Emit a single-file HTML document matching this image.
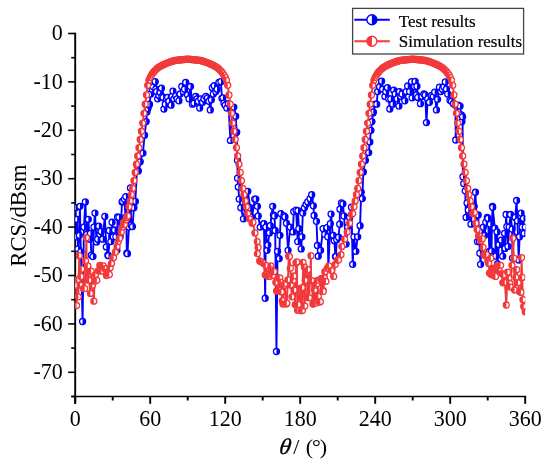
<!DOCTYPE html>
<html><head><meta charset="utf-8"><style>html,body{margin:0;padding:0;background:#fff;width:550px;height:465px;overflow:hidden}svg{display:block}</style></head>
<body>
<svg width="550" height="465" viewBox="0 0 550 465">
<defs>
<symbol id="mb" overflow="visible"><circle cx="0" cy="0" r="3.0" fill="#fff" stroke="#0000ff" stroke-width="1.3"/><path d="M0,-3.0 A3.0,3.0 0 0 1 0,3.0 Z" fill="#0000ff"/></symbol>
<symbol id="mr" overflow="visible"><circle cx="0" cy="0" r="3.0" fill="#fff" stroke="#f2383a" stroke-width="1.3"/><path d="M0,-3.0 A3.0,3.0 0 0 0 0,3.0 Z" fill="#f2383a"/></symbol>
</defs>
<rect width="550" height="465" fill="#fff"/>
<line x1="75.2" y1="32.7" x2="75.2" y2="403.8" stroke="#000" stroke-width="1.9"/>
<line x1="71.4" y1="396.5" x2="526.1500000000001" y2="396.5" stroke="#000" stroke-width="1.7"/>
<line x1="68.2" y1="33.5" x2="75.2" y2="33.5" stroke="#000" stroke-width="1.6"/>
<line x1="71.2" y1="57.7" x2="75.2" y2="57.7" stroke="#000" stroke-width="1.6"/>
<line x1="68.2" y1="81.9" x2="75.2" y2="81.9" stroke="#000" stroke-width="1.6"/>
<line x1="71.2" y1="106.1" x2="75.2" y2="106.1" stroke="#000" stroke-width="1.6"/>
<line x1="68.2" y1="130.3" x2="75.2" y2="130.3" stroke="#000" stroke-width="1.6"/>
<line x1="71.2" y1="154.5" x2="75.2" y2="154.5" stroke="#000" stroke-width="1.6"/>
<line x1="68.2" y1="178.7" x2="75.2" y2="178.7" stroke="#000" stroke-width="1.6"/>
<line x1="71.2" y1="202.9" x2="75.2" y2="202.9" stroke="#000" stroke-width="1.6"/>
<line x1="68.2" y1="227.1" x2="75.2" y2="227.1" stroke="#000" stroke-width="1.6"/>
<line x1="71.2" y1="251.29999999999998" x2="75.2" y2="251.29999999999998" stroke="#000" stroke-width="1.6"/>
<line x1="68.2" y1="275.5" x2="75.2" y2="275.5" stroke="#000" stroke-width="1.6"/>
<line x1="71.2" y1="299.7" x2="75.2" y2="299.7" stroke="#000" stroke-width="1.6"/>
<line x1="68.2" y1="323.9" x2="75.2" y2="323.9" stroke="#000" stroke-width="1.6"/>
<line x1="71.2" y1="348.09999999999997" x2="75.2" y2="348.09999999999997" stroke="#000" stroke-width="1.6"/>
<line x1="68.2" y1="372.3" x2="75.2" y2="372.3" stroke="#000" stroke-width="1.6"/>
<line x1="71.2" y1="396.5" x2="75.2" y2="396.5" stroke="#000" stroke-width="1.6"/>
<line x1="75.2" y1="396.5" x2="75.2" y2="403.8" stroke="#000" stroke-width="1.9"/>
<line x1="112.70000000000002" y1="396.5" x2="112.70000000000002" y2="400.5" stroke="#000" stroke-width="1.9"/>
<line x1="150.20000000000002" y1="396.5" x2="150.20000000000002" y2="403.8" stroke="#000" stroke-width="1.9"/>
<line x1="187.70000000000002" y1="396.5" x2="187.70000000000002" y2="400.5" stroke="#000" stroke-width="1.9"/>
<line x1="225.20000000000005" y1="396.5" x2="225.20000000000005" y2="403.8" stroke="#000" stroke-width="1.9"/>
<line x1="262.70000000000005" y1="396.5" x2="262.70000000000005" y2="400.5" stroke="#000" stroke-width="1.9"/>
<line x1="300.20000000000005" y1="396.5" x2="300.20000000000005" y2="403.8" stroke="#000" stroke-width="1.9"/>
<line x1="337.70000000000005" y1="396.5" x2="337.70000000000005" y2="400.5" stroke="#000" stroke-width="1.9"/>
<line x1="375.20000000000005" y1="396.5" x2="375.20000000000005" y2="403.8" stroke="#000" stroke-width="1.9"/>
<line x1="412.70000000000005" y1="396.5" x2="412.70000000000005" y2="400.5" stroke="#000" stroke-width="1.9"/>
<line x1="450.20000000000005" y1="396.5" x2="450.20000000000005" y2="403.8" stroke="#000" stroke-width="1.9"/>
<line x1="487.70000000000005" y1="396.5" x2="487.70000000000005" y2="400.5" stroke="#000" stroke-width="1.9"/>
<line x1="525.2" y1="396.5" x2="525.2" y2="403.8" stroke="#000" stroke-width="1.9"/>
<clipPath id="pc"><rect x="75.3" y="0" width="450" height="396"/></clipPath>
<g clip-path="url(#pc)">
<path d="M75.58,207.74 L76.20,236.78 L77.20,219.36 L78.08,248.88 L79.33,235.33 L79.95,206.29 L80.83,251.78 L82.58,321.48 L83.95,227.10 L85.33,201.93 L86.70,234.36 L88.33,219.36 L89.58,239.20 L90.45,233.39 L91.33,255.17 L92.95,256.62 L93.95,227.10 L94.95,213.06 L96.58,242.10 L97.70,239.20 L98.83,226.13 L99.95,234.36 L101.08,231.46 L102.70,239.20 L104.83,216.45 L106.33,246.94 L107.83,255.17 L108.45,255.66 L109.33,230.49 L110.83,241.62 L112.08,222.26 L113.33,236.78 L114.58,230.00 L115.83,236.78 L116.95,250.33 L117.58,216.94 L118.95,217.42 L120.20,236.78 L122.08,201.93 L122.70,201.45 L124.45,199.03 L125.45,217.42 L125.83,196.61 L126.83,253.24 L127.45,253.72 L128.95,227.10 L130.45,187.90 L131.20,225.16 L132.45,226.62 L133.95,207.74 L135.33,201.45 L137.20,165.63 L138.33,170.96 L140.20,161.76 L142.95,153.05 L144.58,135.14 L146.20,121.59 L146.95,111.91 L147.95,108.52 L148.95,105.13 L149.45,104.16 L150.83,94.00 L152.08,89.16 L153.33,86.74 L155.20,81.71 L155.83,89.16 L156.57,91.58 L157.70,98.84 L158.95,95.45 L160.20,92.55 L161.45,88.19 L161.95,96.42 L163.08,97.39 L163.95,109.00 L165.32,104.16 L166.45,98.84 L167.70,97.39 L168.95,101.26 L171.08,105.13 L172.08,96.42 L172.95,91.10 L173.95,98.84 L175.83,95.94 L177.08,98.84 L178.95,100.78 L180.20,94.00 L181.82,86.50 L183.33,91.58 L184.58,89.16 L185.70,82.38 L187.58,94.97 L188.95,98.84 L190.45,86.50 L192.45,104.16 L193.95,103.20 L195.83,96.42 L197.08,98.84 L198.33,101.26 L199.70,108.04 L200.83,98.84 L202.58,102.23 L203.95,98.84 L205.83,96.42 L207.45,97.87 L208.95,101.26 L210.32,109.97 L211.33,99.81 L212.33,87.71 L213.33,94.00 L214.20,85.77 L215.83,91.58 L217.08,89.16 L218.95,82.38 L220.95,81.71 L221.95,98.36 L222.95,97.87 L223.95,103.20 L225.20,105.13 L226.83,108.04 L228.33,103.68 L230.45,140.46 L232.08,110.94 L233.83,107.07 L235.70,116.26 L236.70,132.24 L237.45,160.31 L237.58,178.22 L238.33,186.93 L239.20,199.03 L240.83,207.74 L243.45,218.87 L245.83,202.90 L247.83,191.28 L250.20,207.74 L252.08,217.42 L254.70,199.03 L255.83,199.03 L257.45,206.29 L258.20,215.97 L260.20,227.10 L263.33,224.20 L263.95,223.71 L265.20,298.25 L265.83,227.10 L267.08,250.33 L267.82,245.01 L269.45,232.91 L270.32,225.65 L272.70,206.29 L273.45,215.00 L274.45,215.97 L275.20,230.49 L276.45,351.49 L277.58,251.30 L279.20,258.56 L279.95,235.33 L280.83,213.55 L283.95,215.97 L284.95,216.94 L286.45,223.23 L288.08,250.33 L290.20,227.10 L292.95,231.94 L293.70,211.61 L296.07,210.16 L297.70,241.62 L297.95,210.64 L298.83,228.55 L301.20,248.88 L301.95,236.78 L302.83,213.06 L304.45,207.74 L306.07,204.35 L307.70,201.93 L310.08,198.54 L311.70,194.67 L313.33,205.80 L314.08,215.48 L316.45,221.29 L317.45,245.49 L318.20,256.14 L320.58,250.33 L323.08,228.55 L324.70,234.36 L326.95,227.58 L327.83,236.78 L328.33,268.24 L330.33,223.71 L331.07,214.03 L332.70,235.81 L333.20,235.33 L334.33,240.65 L335.45,256.62 L335.95,256.62 L336.70,239.68 L338.57,237.26 L339.70,224.20 L339.95,209.19 L341.45,202.90 L342.95,203.87 L343.95,215.97 L346.07,244.04 L347.70,227.10 L349.58,217.42 L351.45,207.26 L352.70,264.37 L353.95,236.78 L355.83,251.30 L357.70,236.78 L360.08,225.65 L361.20,192.25 L362.33,198.54 L363.33,171.92 L365.45,160.31 L368.70,152.56 L369.83,141.92 L370.95,130.30 L371.95,121.59 L372.95,112.88 L373.33,111.91 L375.20,104.16 L376.70,104.16 L377.70,91.58 L379.58,86.74 L381.58,81.17 L382.70,89.16 L384.95,96.42 L385.83,91.58 L387.45,87.71 L388.70,98.84 L389.83,109.00 L390.83,98.84 L392.70,104.16 L393.70,90.13 L395.20,94.00 L397.08,98.84 L398.95,106.10 L399.45,91.58 L400.83,96.42 L402.08,94.00 L404.83,100.78 L406.20,91.58 L407.70,86.01 L409.58,91.58 L411.58,81.71 L412.08,97.87 L414.58,86.50 L415.20,81.42 L416.45,94.97 L416.95,86.26 L417.83,97.39 L420.45,103.68 L422.08,96.42 L423.95,94.00 L425.20,94.97 L426.45,122.56 L427.70,98.84 L429.45,102.23 L431.70,95.45 L433.33,96.42 L434.70,92.06 L436.45,109.97 L437.57,99.32 L439.45,87.22 L440.83,91.58 L442.45,89.16 L443.95,86.74 L445.33,81.90 L446.45,89.16 L447.70,94.00 L449.95,100.29 L451.45,101.26 L453.33,103.68 L455.45,105.13 L455.70,139.98 L457.08,106.10 L458.33,105.13 L460.07,106.10 L461.32,114.81 L461.95,121.59 L462.57,116.75 L462.95,176.76 L463.70,183.54 L465.20,190.80 L466.07,217.42 L467.08,202.90 L468.33,210.16 L470.95,224.20 L472.08,207.74 L474.20,206.29 L475.45,192.25 L477.45,241.62 L478.20,215.00 L479.45,241.62 L479.82,253.24 L480.58,264.37 L481.45,236.78 L483.33,227.10 L484.70,235.33 L485.83,222.26 L487.32,217.42 L487.95,218.39 L489.45,251.30 L490.33,224.20 L491.45,250.82 L492.45,206.29 L492.70,207.26 L494.82,228.07 L495.83,256.14 L497.08,231.94 L497.45,263.88 L498.95,244.52 L501.32,240.17 L502.70,256.14 L504.58,233.39 L505.07,248.40 L506.07,214.52 L506.83,226.62 L507.95,246.46 L509.20,227.10 L510.58,214.52 L512.08,229.04 L512.45,258.08 L513.95,236.78 L515.20,217.42 L516.58,200.48 L517.45,220.81 L518.70,260.01 L519.58,236.78 L521.08,213.06 L522.08,227.10 L523.45,218.39 L524.20,233.39 L525.20,227.10" fill="none" stroke="#0000ff" stroke-width="1.9" stroke-linejoin="round"/>
<use href="#mb" x="75.58" y="207.74"/>
<use href="#mb" x="76.20" y="236.78"/>
<use href="#mb" x="77.20" y="219.36"/>
<use href="#mb" x="78.08" y="248.88"/>
<use href="#mb" x="79.33" y="235.33"/>
<use href="#mb" x="79.95" y="206.29"/>
<use href="#mb" x="80.83" y="251.78"/>
<use href="#mb" x="82.58" y="321.48"/>
<use href="#mb" x="83.95" y="227.10"/>
<use href="#mb" x="85.33" y="201.93"/>
<use href="#mb" x="86.70" y="234.36"/>
<use href="#mb" x="88.33" y="219.36"/>
<use href="#mb" x="89.58" y="239.20"/>
<use href="#mb" x="90.45" y="233.39"/>
<use href="#mb" x="91.33" y="255.17"/>
<use href="#mb" x="92.95" y="256.62"/>
<use href="#mb" x="93.95" y="227.10"/>
<use href="#mb" x="94.95" y="213.06"/>
<use href="#mb" x="96.58" y="242.10"/>
<use href="#mb" x="97.70" y="239.20"/>
<use href="#mb" x="98.83" y="226.13"/>
<use href="#mb" x="99.95" y="234.36"/>
<use href="#mb" x="101.08" y="231.46"/>
<use href="#mb" x="102.70" y="239.20"/>
<use href="#mb" x="104.83" y="216.45"/>
<use href="#mb" x="106.33" y="246.94"/>
<use href="#mb" x="107.83" y="255.17"/>
<use href="#mb" x="108.45" y="255.66"/>
<use href="#mb" x="109.33" y="230.49"/>
<use href="#mb" x="110.83" y="241.62"/>
<use href="#mb" x="112.08" y="222.26"/>
<use href="#mb" x="113.33" y="236.78"/>
<use href="#mb" x="114.58" y="230.00"/>
<use href="#mb" x="115.83" y="236.78"/>
<use href="#mb" x="116.95" y="250.33"/>
<use href="#mb" x="117.58" y="216.94"/>
<use href="#mb" x="118.95" y="217.42"/>
<use href="#mb" x="120.20" y="236.78"/>
<use href="#mb" x="122.08" y="201.93"/>
<use href="#mb" x="122.70" y="201.45"/>
<use href="#mb" x="124.45" y="199.03"/>
<use href="#mb" x="125.45" y="217.42"/>
<use href="#mb" x="125.83" y="196.61"/>
<use href="#mb" x="126.83" y="253.24"/>
<use href="#mb" x="127.45" y="253.72"/>
<use href="#mb" x="128.95" y="227.10"/>
<use href="#mb" x="130.45" y="187.90"/>
<use href="#mb" x="131.20" y="225.16"/>
<use href="#mb" x="132.45" y="226.62"/>
<use href="#mb" x="133.95" y="207.74"/>
<use href="#mb" x="135.33" y="201.45"/>
<use href="#mb" x="137.20" y="165.63"/>
<use href="#mb" x="138.33" y="170.96"/>
<use href="#mb" x="140.20" y="161.76"/>
<use href="#mb" x="142.95" y="153.05"/>
<use href="#mb" x="144.58" y="135.14"/>
<use href="#mb" x="146.20" y="121.59"/>
<use href="#mb" x="146.95" y="111.91"/>
<use href="#mb" x="147.95" y="108.52"/>
<use href="#mb" x="148.95" y="105.13"/>
<use href="#mb" x="149.45" y="104.16"/>
<use href="#mb" x="150.83" y="94.00"/>
<use href="#mb" x="152.08" y="89.16"/>
<use href="#mb" x="153.33" y="86.74"/>
<use href="#mb" x="155.20" y="81.71"/>
<use href="#mb" x="155.83" y="89.16"/>
<use href="#mb" x="156.57" y="91.58"/>
<use href="#mb" x="157.70" y="98.84"/>
<use href="#mb" x="158.95" y="95.45"/>
<use href="#mb" x="160.20" y="92.55"/>
<use href="#mb" x="161.45" y="88.19"/>
<use href="#mb" x="161.95" y="96.42"/>
<use href="#mb" x="163.08" y="97.39"/>
<use href="#mb" x="163.95" y="109.00"/>
<use href="#mb" x="165.32" y="104.16"/>
<use href="#mb" x="166.45" y="98.84"/>
<use href="#mb" x="167.70" y="97.39"/>
<use href="#mb" x="168.95" y="101.26"/>
<use href="#mb" x="171.08" y="105.13"/>
<use href="#mb" x="172.08" y="96.42"/>
<use href="#mb" x="172.95" y="91.10"/>
<use href="#mb" x="173.95" y="98.84"/>
<use href="#mb" x="175.83" y="95.94"/>
<use href="#mb" x="177.08" y="98.84"/>
<use href="#mb" x="178.95" y="100.78"/>
<use href="#mb" x="180.20" y="94.00"/>
<use href="#mb" x="181.82" y="86.50"/>
<use href="#mb" x="183.33" y="91.58"/>
<use href="#mb" x="184.58" y="89.16"/>
<use href="#mb" x="185.70" y="82.38"/>
<use href="#mb" x="187.58" y="94.97"/>
<use href="#mb" x="188.95" y="98.84"/>
<use href="#mb" x="190.45" y="86.50"/>
<use href="#mb" x="192.45" y="104.16"/>
<use href="#mb" x="193.95" y="103.20"/>
<use href="#mb" x="195.83" y="96.42"/>
<use href="#mb" x="197.08" y="98.84"/>
<use href="#mb" x="198.33" y="101.26"/>
<use href="#mb" x="199.70" y="108.04"/>
<use href="#mb" x="200.83" y="98.84"/>
<use href="#mb" x="202.58" y="102.23"/>
<use href="#mb" x="203.95" y="98.84"/>
<use href="#mb" x="205.83" y="96.42"/>
<use href="#mb" x="207.45" y="97.87"/>
<use href="#mb" x="208.95" y="101.26"/>
<use href="#mb" x="210.32" y="109.97"/>
<use href="#mb" x="211.33" y="99.81"/>
<use href="#mb" x="212.33" y="87.71"/>
<use href="#mb" x="213.33" y="94.00"/>
<use href="#mb" x="214.20" y="85.77"/>
<use href="#mb" x="215.83" y="91.58"/>
<use href="#mb" x="217.08" y="89.16"/>
<use href="#mb" x="218.95" y="82.38"/>
<use href="#mb" x="220.95" y="81.71"/>
<use href="#mb" x="221.95" y="98.36"/>
<use href="#mb" x="222.95" y="97.87"/>
<use href="#mb" x="223.95" y="103.20"/>
<use href="#mb" x="225.20" y="105.13"/>
<use href="#mb" x="226.83" y="108.04"/>
<use href="#mb" x="228.33" y="103.68"/>
<use href="#mb" x="230.45" y="140.46"/>
<use href="#mb" x="232.08" y="110.94"/>
<use href="#mb" x="233.83" y="107.07"/>
<use href="#mb" x="235.70" y="116.26"/>
<use href="#mb" x="236.70" y="132.24"/>
<use href="#mb" x="237.45" y="160.31"/>
<use href="#mb" x="237.58" y="178.22"/>
<use href="#mb" x="238.33" y="186.93"/>
<use href="#mb" x="239.20" y="199.03"/>
<use href="#mb" x="240.83" y="207.74"/>
<use href="#mb" x="243.45" y="218.87"/>
<use href="#mb" x="245.83" y="202.90"/>
<use href="#mb" x="247.83" y="191.28"/>
<use href="#mb" x="250.20" y="207.74"/>
<use href="#mb" x="252.08" y="217.42"/>
<use href="#mb" x="254.70" y="199.03"/>
<use href="#mb" x="255.83" y="199.03"/>
<use href="#mb" x="257.45" y="206.29"/>
<use href="#mb" x="258.20" y="215.97"/>
<use href="#mb" x="260.20" y="227.10"/>
<use href="#mb" x="263.33" y="224.20"/>
<use href="#mb" x="263.95" y="223.71"/>
<use href="#mb" x="265.20" y="298.25"/>
<use href="#mb" x="265.83" y="227.10"/>
<use href="#mb" x="267.08" y="250.33"/>
<use href="#mb" x="267.82" y="245.01"/>
<use href="#mb" x="269.45" y="232.91"/>
<use href="#mb" x="270.32" y="225.65"/>
<use href="#mb" x="272.70" y="206.29"/>
<use href="#mb" x="273.45" y="215.00"/>
<use href="#mb" x="274.45" y="215.97"/>
<use href="#mb" x="275.20" y="230.49"/>
<use href="#mb" x="276.45" y="351.49"/>
<use href="#mb" x="277.58" y="251.30"/>
<use href="#mb" x="279.20" y="258.56"/>
<use href="#mb" x="279.95" y="235.33"/>
<use href="#mb" x="280.83" y="213.55"/>
<use href="#mb" x="283.95" y="215.97"/>
<use href="#mb" x="284.95" y="216.94"/>
<use href="#mb" x="286.45" y="223.23"/>
<use href="#mb" x="288.08" y="250.33"/>
<use href="#mb" x="290.20" y="227.10"/>
<use href="#mb" x="292.95" y="231.94"/>
<use href="#mb" x="293.70" y="211.61"/>
<use href="#mb" x="296.07" y="210.16"/>
<use href="#mb" x="297.70" y="241.62"/>
<use href="#mb" x="297.95" y="210.64"/>
<use href="#mb" x="298.83" y="228.55"/>
<use href="#mb" x="301.20" y="248.88"/>
<use href="#mb" x="301.95" y="236.78"/>
<use href="#mb" x="302.83" y="213.06"/>
<use href="#mb" x="304.45" y="207.74"/>
<use href="#mb" x="306.07" y="204.35"/>
<use href="#mb" x="307.70" y="201.93"/>
<use href="#mb" x="310.08" y="198.54"/>
<use href="#mb" x="311.70" y="194.67"/>
<use href="#mb" x="313.33" y="205.80"/>
<use href="#mb" x="314.08" y="215.48"/>
<use href="#mb" x="316.45" y="221.29"/>
<use href="#mb" x="317.45" y="245.49"/>
<use href="#mb" x="318.20" y="256.14"/>
<use href="#mb" x="320.58" y="250.33"/>
<use href="#mb" x="323.08" y="228.55"/>
<use href="#mb" x="324.70" y="234.36"/>
<use href="#mb" x="326.95" y="227.58"/>
<use href="#mb" x="327.83" y="236.78"/>
<use href="#mb" x="328.33" y="268.24"/>
<use href="#mb" x="330.33" y="223.71"/>
<use href="#mb" x="331.07" y="214.03"/>
<use href="#mb" x="332.70" y="235.81"/>
<use href="#mb" x="333.20" y="235.33"/>
<use href="#mb" x="334.33" y="240.65"/>
<use href="#mb" x="335.45" y="256.62"/>
<use href="#mb" x="335.95" y="256.62"/>
<use href="#mb" x="336.70" y="239.68"/>
<use href="#mb" x="338.57" y="237.26"/>
<use href="#mb" x="339.70" y="224.20"/>
<use href="#mb" x="339.95" y="209.19"/>
<use href="#mb" x="341.45" y="202.90"/>
<use href="#mb" x="342.95" y="203.87"/>
<use href="#mb" x="343.95" y="215.97"/>
<use href="#mb" x="346.07" y="244.04"/>
<use href="#mb" x="347.70" y="227.10"/>
<use href="#mb" x="349.58" y="217.42"/>
<use href="#mb" x="351.45" y="207.26"/>
<use href="#mb" x="352.70" y="264.37"/>
<use href="#mb" x="353.95" y="236.78"/>
<use href="#mb" x="355.83" y="251.30"/>
<use href="#mb" x="357.70" y="236.78"/>
<use href="#mb" x="360.08" y="225.65"/>
<use href="#mb" x="361.20" y="192.25"/>
<use href="#mb" x="362.33" y="198.54"/>
<use href="#mb" x="363.33" y="171.92"/>
<use href="#mb" x="365.45" y="160.31"/>
<use href="#mb" x="368.70" y="152.56"/>
<use href="#mb" x="369.83" y="141.92"/>
<use href="#mb" x="370.95" y="130.30"/>
<use href="#mb" x="371.95" y="121.59"/>
<use href="#mb" x="372.95" y="112.88"/>
<use href="#mb" x="373.33" y="111.91"/>
<use href="#mb" x="375.20" y="104.16"/>
<use href="#mb" x="376.70" y="104.16"/>
<use href="#mb" x="377.70" y="91.58"/>
<use href="#mb" x="379.58" y="86.74"/>
<use href="#mb" x="381.58" y="81.17"/>
<use href="#mb" x="382.70" y="89.16"/>
<use href="#mb" x="384.95" y="96.42"/>
<use href="#mb" x="385.83" y="91.58"/>
<use href="#mb" x="387.45" y="87.71"/>
<use href="#mb" x="388.70" y="98.84"/>
<use href="#mb" x="389.83" y="109.00"/>
<use href="#mb" x="390.83" y="98.84"/>
<use href="#mb" x="392.70" y="104.16"/>
<use href="#mb" x="393.70" y="90.13"/>
<use href="#mb" x="395.20" y="94.00"/>
<use href="#mb" x="397.08" y="98.84"/>
<use href="#mb" x="398.95" y="106.10"/>
<use href="#mb" x="399.45" y="91.58"/>
<use href="#mb" x="400.83" y="96.42"/>
<use href="#mb" x="402.08" y="94.00"/>
<use href="#mb" x="404.83" y="100.78"/>
<use href="#mb" x="406.20" y="91.58"/>
<use href="#mb" x="407.70" y="86.01"/>
<use href="#mb" x="409.58" y="91.58"/>
<use href="#mb" x="411.58" y="81.71"/>
<use href="#mb" x="412.08" y="97.87"/>
<use href="#mb" x="414.58" y="86.50"/>
<use href="#mb" x="415.20" y="81.42"/>
<use href="#mb" x="416.45" y="94.97"/>
<use href="#mb" x="416.95" y="86.26"/>
<use href="#mb" x="417.83" y="97.39"/>
<use href="#mb" x="420.45" y="103.68"/>
<use href="#mb" x="422.08" y="96.42"/>
<use href="#mb" x="423.95" y="94.00"/>
<use href="#mb" x="425.20" y="94.97"/>
<use href="#mb" x="426.45" y="122.56"/>
<use href="#mb" x="427.70" y="98.84"/>
<use href="#mb" x="429.45" y="102.23"/>
<use href="#mb" x="431.70" y="95.45"/>
<use href="#mb" x="433.33" y="96.42"/>
<use href="#mb" x="434.70" y="92.06"/>
<use href="#mb" x="436.45" y="109.97"/>
<use href="#mb" x="437.57" y="99.32"/>
<use href="#mb" x="439.45" y="87.22"/>
<use href="#mb" x="440.83" y="91.58"/>
<use href="#mb" x="442.45" y="89.16"/>
<use href="#mb" x="443.95" y="86.74"/>
<use href="#mb" x="445.33" y="81.90"/>
<use href="#mb" x="446.45" y="89.16"/>
<use href="#mb" x="447.70" y="94.00"/>
<use href="#mb" x="449.95" y="100.29"/>
<use href="#mb" x="451.45" y="101.26"/>
<use href="#mb" x="453.33" y="103.68"/>
<use href="#mb" x="455.45" y="105.13"/>
<use href="#mb" x="455.70" y="139.98"/>
<use href="#mb" x="457.08" y="106.10"/>
<use href="#mb" x="458.33" y="105.13"/>
<use href="#mb" x="460.07" y="106.10"/>
<use href="#mb" x="461.32" y="114.81"/>
<use href="#mb" x="461.95" y="121.59"/>
<use href="#mb" x="462.57" y="116.75"/>
<use href="#mb" x="462.95" y="176.76"/>
<use href="#mb" x="463.70" y="183.54"/>
<use href="#mb" x="465.20" y="190.80"/>
<use href="#mb" x="466.07" y="217.42"/>
<use href="#mb" x="467.08" y="202.90"/>
<use href="#mb" x="468.33" y="210.16"/>
<use href="#mb" x="470.95" y="224.20"/>
<use href="#mb" x="472.08" y="207.74"/>
<use href="#mb" x="474.20" y="206.29"/>
<use href="#mb" x="475.45" y="192.25"/>
<use href="#mb" x="477.45" y="241.62"/>
<use href="#mb" x="478.20" y="215.00"/>
<use href="#mb" x="479.45" y="241.62"/>
<use href="#mb" x="479.82" y="253.24"/>
<use href="#mb" x="480.58" y="264.37"/>
<use href="#mb" x="481.45" y="236.78"/>
<use href="#mb" x="483.33" y="227.10"/>
<use href="#mb" x="484.70" y="235.33"/>
<use href="#mb" x="485.83" y="222.26"/>
<use href="#mb" x="487.32" y="217.42"/>
<use href="#mb" x="487.95" y="218.39"/>
<use href="#mb" x="489.45" y="251.30"/>
<use href="#mb" x="490.33" y="224.20"/>
<use href="#mb" x="491.45" y="250.82"/>
<use href="#mb" x="492.45" y="206.29"/>
<use href="#mb" x="492.70" y="207.26"/>
<use href="#mb" x="494.82" y="228.07"/>
<use href="#mb" x="495.83" y="256.14"/>
<use href="#mb" x="497.08" y="231.94"/>
<use href="#mb" x="497.45" y="263.88"/>
<use href="#mb" x="498.95" y="244.52"/>
<use href="#mb" x="501.32" y="240.17"/>
<use href="#mb" x="502.70" y="256.14"/>
<use href="#mb" x="504.58" y="233.39"/>
<use href="#mb" x="505.07" y="248.40"/>
<use href="#mb" x="506.07" y="214.52"/>
<use href="#mb" x="506.83" y="226.62"/>
<use href="#mb" x="507.95" y="246.46"/>
<use href="#mb" x="509.20" y="227.10"/>
<use href="#mb" x="510.58" y="214.52"/>
<use href="#mb" x="512.08" y="229.04"/>
<use href="#mb" x="512.45" y="258.08"/>
<use href="#mb" x="513.95" y="236.78"/>
<use href="#mb" x="515.20" y="217.42"/>
<use href="#mb" x="516.58" y="200.48"/>
<use href="#mb" x="517.45" y="220.81"/>
<use href="#mb" x="518.70" y="260.01"/>
<use href="#mb" x="519.58" y="236.78"/>
<use href="#mb" x="521.08" y="213.06"/>
<use href="#mb" x="522.08" y="227.10"/>
<use href="#mb" x="523.45" y="218.39"/>
<use href="#mb" x="524.20" y="233.39"/>
<use href="#mb" x="525.20" y="227.10"/>
<path d="M75.20,285.18 L76.58,305.51 L77.45,279.86 L78.33,296.80 L79.20,255.66 L80.20,285.18 L80.95,276.47 L81.70,269.21 L83.45,288.57 L84.70,288.57 L85.58,260.98 L86.45,237.75 L86.95,279.86 L87.83,265.82 L89.20,280.34 L90.45,293.41 L91.20,271.14 L92.45,285.18 L93.83,301.15 L94.70,281.31 L95.45,274.53 L96.83,280.34 L98.33,270.66 L99.83,265.34 L100.83,265.82 L101.45,271.14 L103.20,265.82 L104.95,268.72 L106.45,275.50 L107.95,271.63 L109.33,274.53 L110.08,267.76 L111.45,263.40 L112.83,257.59 L113.58,257.59 L115.33,252.27 L117.08,246.46 L118.33,241.62 L119.58,238.23 L121.20,231.94 L122.45,227.10 L123.45,222.74 L124.58,224.68 L125.83,219.84 L126.70,217.42 L127.70,215.97 L128.95,206.77 L130.20,200.96 L131.45,194.67 L132.70,188.38 L133.95,180.64 L135.20,172.41 L136.45,164.18 L137.70,155.95 L138.95,147.72 L140.20,139.50 L141.45,131.27 L142.70,123.04 L143.95,113.36 L145.20,104.16 L146.45,94.97 L147.70,85.36 L148.95,80.21 L150.20,77.30 L151.45,75.12 L152.70,73.19 L153.95,71.74 L155.20,70.28 L156.45,69.12 L157.70,67.96 L158.95,67.03 L160.20,66.34 L161.45,65.65 L162.70,64.96 L163.95,64.43 L165.20,63.90 L166.45,63.36 L167.70,62.83 L168.95,62.30 L170.20,61.91 L171.45,61.52 L172.70,61.14 L173.95,60.75 L175.20,60.36 L176.45,60.24 L177.70,60.12 L178.95,60.00 L180.20,59.88 L181.45,59.76 L182.70,59.64 L183.95,59.52 L185.20,59.39 L186.45,59.27 L187.70,59.15 L188.95,59.27 L190.20,59.39 L191.45,59.52 L192.70,59.64 L193.95,59.76 L195.20,59.88 L196.45,60.00 L197.70,60.12 L198.95,60.24 L200.20,60.36 L201.45,60.75 L202.70,61.14 L203.95,61.52 L205.20,61.91 L206.45,62.30 L207.70,62.83 L208.95,63.36 L210.20,63.90 L211.45,64.43 L212.70,64.96 L213.95,65.65 L215.20,66.34 L216.45,67.03 L217.70,67.96 L218.95,69.12 L220.20,70.28 L221.45,71.74 L222.70,73.19 L223.95,75.12 L225.20,77.30 L226.45,80.21 L227.70,85.36 L228.95,94.97 L230.20,104.16 L231.45,113.36 L232.70,123.04 L233.95,131.27 L235.20,139.50 L236.45,147.72 L237.70,155.95 L238.95,164.18 L240.20,172.41 L241.45,180.64 L242.70,188.38 L243.95,194.67 L245.20,200.96 L246.45,206.77 L247.70,213.55 L249.45,218.87 L252.08,223.23 L252.95,222.26 L254.95,232.91 L257.20,241.62 L257.32,253.72 L258.08,247.43 L259.70,260.98 L261.45,261.95 L263.70,263.40 L265.32,275.02 L265.83,265.34 L267.95,275.98 L269.45,276.47 L270.95,265.82 L271.20,269.69 L272.70,275.50 L272.82,271.14 L274.20,271.63 L275.83,282.28 L276.57,290.99 L278.45,277.92 L278.70,290.99 L279.20,290.50 L279.82,277.92 L280.95,282.28 L281.45,291.96 L282.32,300.67 L282.95,304.06 L284.07,285.66 L284.70,283.73 L286.33,304.06 L286.83,303.09 L287.95,279.86 L288.70,256.14 L289.45,256.62 L290.32,268.24 L290.95,285.18 L291.95,296.80 L293.33,280.34 L293.83,275.98 L294.20,290.02 L295.20,304.54 L295.95,262.92 L296.83,261.95 L297.58,310.35 L298.20,304.54 L299.82,288.57 L301.45,310.83 L302.20,287.60 L302.45,310.35 L303.08,262.43 L304.45,267.27 L304.70,305.99 L305.20,280.34 L307.08,271.14 L307.08,297.28 L307.95,269.69 L309.20,297.76 L310.95,255.66 L311.07,280.34 L312.08,280.82 L312.95,304.06 L313.45,303.57 L314.58,290.02 L314.82,285.18 L315.83,303.09 L316.83,283.73 L317.45,280.34 L318.33,296.31 L319.20,302.12 L320.33,301.64 L320.83,278.89 L321.70,278.40 L323.08,290.50 L323.20,291.47 L324.45,277.92 L324.82,271.63 L325.95,281.31 L327.32,268.24 L328.95,265.82 L331.45,270.66 L333.70,276.47 L335.33,264.37 L337.45,260.01 L338.45,260.01 L340.95,254.69 L341.83,246.46 L344.58,239.20 L347.20,231.94 L349.58,223.23 L351.45,214.52 L352.70,213.55 L353.95,206.77 L355.20,200.96 L356.45,194.67 L357.70,188.38 L358.95,180.64 L360.20,172.41 L361.45,164.18 L362.70,155.95 L363.95,147.72 L365.20,139.50 L366.45,131.27 L367.70,123.04 L368.95,113.36 L370.20,104.16 L371.45,94.97 L372.70,85.36 L373.95,80.21 L375.20,77.30 L376.45,75.12 L377.70,73.19 L378.95,71.74 L380.20,70.28 L381.45,69.12 L382.70,67.96 L383.95,67.03 L385.20,66.34 L386.45,65.65 L387.70,64.96 L388.95,64.43 L390.20,63.90 L391.45,63.36 L392.70,62.83 L393.95,62.30 L395.20,61.91 L396.45,61.52 L397.70,61.14 L398.95,60.75 L400.20,60.36 L401.45,60.24 L402.70,60.12 L403.95,60.00 L405.20,59.88 L406.45,59.76 L407.70,59.64 L408.95,59.52 L410.20,59.39 L411.45,59.27 L412.70,59.15 L413.95,59.27 L415.20,59.39 L416.45,59.52 L417.70,59.64 L418.95,59.76 L420.20,59.88 L421.45,60.00 L422.70,60.12 L423.95,60.24 L425.20,60.36 L426.45,60.75 L427.70,61.14 L428.95,61.52 L430.20,61.91 L431.45,62.30 L432.70,62.83 L433.95,63.36 L435.20,63.90 L436.45,64.43 L437.70,64.96 L438.95,65.65 L440.20,66.34 L441.45,67.03 L442.70,67.96 L443.95,69.12 L445.20,70.28 L446.45,71.74 L447.70,73.19 L448.95,75.12 L450.20,77.30 L451.45,80.21 L452.70,85.36 L453.95,94.97 L455.20,104.16 L456.45,113.36 L457.70,123.04 L458.95,131.27 L460.20,139.50 L461.45,147.72 L462.70,155.95 L463.95,164.18 L465.20,172.41 L466.45,180.64 L467.70,188.38 L468.95,194.67 L470.20,200.96 L471.45,206.77 L472.70,213.55 L474.33,212.58 L475.83,223.23 L477.08,229.52 L478.45,235.81 L479.82,236.30 L480.83,240.65 L482.32,238.72 L483.08,247.43 L483.95,254.69 L485.45,255.66 L486.45,254.69 L487.83,260.98 L488.70,263.40 L489.45,273.08 L490.83,258.08 L491.32,274.53 L492.32,269.21 L492.95,275.02 L494.33,268.24 L495.45,276.47 L496.07,269.21 L497.08,265.82 L498.08,267.27 L499.20,270.66 L500.58,265.34 L501.70,273.56 L502.83,282.76 L503.45,275.02 L504.82,282.28 L506.32,305.02 L507.57,272.11 L508.95,278.40 L509.58,283.24 L510.45,287.12 L511.95,265.34 L512.83,238.23 L513.95,258.08 L514.58,290.02 L515.95,277.44 L516.70,269.69 L518.08,282.76 L519.45,291.47 L520.95,292.44 L521.58,257.59 L522.20,277.44 L522.95,299.70 L523.70,306.48 L525.20,311.80" fill="none" stroke="#f2383a" stroke-width="1.9" stroke-linejoin="round"/>
<use href="#mr" x="75.20" y="285.18"/>
<use href="#mr" x="76.58" y="305.51"/>
<use href="#mr" x="77.45" y="279.86"/>
<use href="#mr" x="78.33" y="296.80"/>
<use href="#mr" x="79.20" y="255.66"/>
<use href="#mr" x="80.20" y="285.18"/>
<use href="#mr" x="80.95" y="276.47"/>
<use href="#mr" x="81.70" y="269.21"/>
<use href="#mr" x="83.45" y="288.57"/>
<use href="#mr" x="84.70" y="288.57"/>
<use href="#mr" x="85.58" y="260.98"/>
<use href="#mr" x="86.45" y="237.75"/>
<use href="#mr" x="86.95" y="279.86"/>
<use href="#mr" x="87.83" y="265.82"/>
<use href="#mr" x="89.20" y="280.34"/>
<use href="#mr" x="90.45" y="293.41"/>
<use href="#mr" x="91.20" y="271.14"/>
<use href="#mr" x="92.45" y="285.18"/>
<use href="#mr" x="93.83" y="301.15"/>
<use href="#mr" x="94.70" y="281.31"/>
<use href="#mr" x="95.45" y="274.53"/>
<use href="#mr" x="96.83" y="280.34"/>
<use href="#mr" x="98.33" y="270.66"/>
<use href="#mr" x="99.83" y="265.34"/>
<use href="#mr" x="100.83" y="265.82"/>
<use href="#mr" x="101.45" y="271.14"/>
<use href="#mr" x="103.20" y="265.82"/>
<use href="#mr" x="104.95" y="268.72"/>
<use href="#mr" x="106.45" y="275.50"/>
<use href="#mr" x="107.95" y="271.63"/>
<use href="#mr" x="109.33" y="274.53"/>
<use href="#mr" x="110.08" y="267.76"/>
<use href="#mr" x="111.45" y="263.40"/>
<use href="#mr" x="112.83" y="257.59"/>
<use href="#mr" x="113.58" y="257.59"/>
<use href="#mr" x="115.33" y="252.27"/>
<use href="#mr" x="117.08" y="246.46"/>
<use href="#mr" x="118.33" y="241.62"/>
<use href="#mr" x="119.58" y="238.23"/>
<use href="#mr" x="121.20" y="231.94"/>
<use href="#mr" x="122.45" y="227.10"/>
<use href="#mr" x="123.45" y="222.74"/>
<use href="#mr" x="124.58" y="224.68"/>
<use href="#mr" x="125.83" y="219.84"/>
<use href="#mr" x="126.70" y="217.42"/>
<use href="#mr" x="127.70" y="215.97"/>
<use href="#mr" x="128.95" y="206.77"/>
<use href="#mr" x="130.20" y="200.96"/>
<use href="#mr" x="131.45" y="194.67"/>
<use href="#mr" x="132.70" y="188.38"/>
<use href="#mr" x="133.95" y="180.64"/>
<use href="#mr" x="135.20" y="172.41"/>
<use href="#mr" x="136.45" y="164.18"/>
<use href="#mr" x="137.70" y="155.95"/>
<use href="#mr" x="138.95" y="147.72"/>
<use href="#mr" x="140.20" y="139.50"/>
<use href="#mr" x="141.45" y="131.27"/>
<use href="#mr" x="142.70" y="123.04"/>
<use href="#mr" x="143.95" y="113.36"/>
<use href="#mr" x="145.20" y="104.16"/>
<use href="#mr" x="146.45" y="94.97"/>
<use href="#mr" x="147.70" y="85.36"/>
<use href="#mr" x="148.95" y="80.21"/>
<use href="#mr" x="150.20" y="77.30"/>
<use href="#mr" x="151.45" y="75.12"/>
<use href="#mr" x="152.70" y="73.19"/>
<use href="#mr" x="153.95" y="71.74"/>
<use href="#mr" x="155.20" y="70.28"/>
<use href="#mr" x="156.45" y="69.12"/>
<use href="#mr" x="157.70" y="67.96"/>
<use href="#mr" x="158.95" y="67.03"/>
<use href="#mr" x="160.20" y="66.34"/>
<use href="#mr" x="161.45" y="65.65"/>
<use href="#mr" x="162.70" y="64.96"/>
<use href="#mr" x="163.95" y="64.43"/>
<use href="#mr" x="165.20" y="63.90"/>
<use href="#mr" x="166.45" y="63.36"/>
<use href="#mr" x="167.70" y="62.83"/>
<use href="#mr" x="168.95" y="62.30"/>
<use href="#mr" x="170.20" y="61.91"/>
<use href="#mr" x="171.45" y="61.52"/>
<use href="#mr" x="172.70" y="61.14"/>
<use href="#mr" x="173.95" y="60.75"/>
<use href="#mr" x="175.20" y="60.36"/>
<use href="#mr" x="176.45" y="60.24"/>
<use href="#mr" x="177.70" y="60.12"/>
<use href="#mr" x="178.95" y="60.00"/>
<use href="#mr" x="180.20" y="59.88"/>
<use href="#mr" x="181.45" y="59.76"/>
<use href="#mr" x="182.70" y="59.64"/>
<use href="#mr" x="183.95" y="59.52"/>
<use href="#mr" x="185.20" y="59.39"/>
<use href="#mr" x="186.45" y="59.27"/>
<use href="#mr" x="187.70" y="59.15"/>
<use href="#mr" x="188.95" y="59.27"/>
<use href="#mr" x="190.20" y="59.39"/>
<use href="#mr" x="191.45" y="59.52"/>
<use href="#mr" x="192.70" y="59.64"/>
<use href="#mr" x="193.95" y="59.76"/>
<use href="#mr" x="195.20" y="59.88"/>
<use href="#mr" x="196.45" y="60.00"/>
<use href="#mr" x="197.70" y="60.12"/>
<use href="#mr" x="198.95" y="60.24"/>
<use href="#mr" x="200.20" y="60.36"/>
<use href="#mr" x="201.45" y="60.75"/>
<use href="#mr" x="202.70" y="61.14"/>
<use href="#mr" x="203.95" y="61.52"/>
<use href="#mr" x="205.20" y="61.91"/>
<use href="#mr" x="206.45" y="62.30"/>
<use href="#mr" x="207.70" y="62.83"/>
<use href="#mr" x="208.95" y="63.36"/>
<use href="#mr" x="210.20" y="63.90"/>
<use href="#mr" x="211.45" y="64.43"/>
<use href="#mr" x="212.70" y="64.96"/>
<use href="#mr" x="213.95" y="65.65"/>
<use href="#mr" x="215.20" y="66.34"/>
<use href="#mr" x="216.45" y="67.03"/>
<use href="#mr" x="217.70" y="67.96"/>
<use href="#mr" x="218.95" y="69.12"/>
<use href="#mr" x="220.20" y="70.28"/>
<use href="#mr" x="221.45" y="71.74"/>
<use href="#mr" x="222.70" y="73.19"/>
<use href="#mr" x="223.95" y="75.12"/>
<use href="#mr" x="225.20" y="77.30"/>
<use href="#mr" x="226.45" y="80.21"/>
<use href="#mr" x="227.70" y="85.36"/>
<use href="#mr" x="228.95" y="94.97"/>
<use href="#mr" x="230.20" y="104.16"/>
<use href="#mr" x="231.45" y="113.36"/>
<use href="#mr" x="232.70" y="123.04"/>
<use href="#mr" x="233.95" y="131.27"/>
<use href="#mr" x="235.20" y="139.50"/>
<use href="#mr" x="236.45" y="147.72"/>
<use href="#mr" x="237.70" y="155.95"/>
<use href="#mr" x="238.95" y="164.18"/>
<use href="#mr" x="240.20" y="172.41"/>
<use href="#mr" x="241.45" y="180.64"/>
<use href="#mr" x="242.70" y="188.38"/>
<use href="#mr" x="243.95" y="194.67"/>
<use href="#mr" x="245.20" y="200.96"/>
<use href="#mr" x="246.45" y="206.77"/>
<use href="#mr" x="247.70" y="213.55"/>
<use href="#mr" x="249.45" y="218.87"/>
<use href="#mr" x="252.08" y="223.23"/>
<use href="#mr" x="252.95" y="222.26"/>
<use href="#mr" x="254.95" y="232.91"/>
<use href="#mr" x="257.20" y="241.62"/>
<use href="#mr" x="257.32" y="253.72"/>
<use href="#mr" x="258.08" y="247.43"/>
<use href="#mr" x="259.70" y="260.98"/>
<use href="#mr" x="261.45" y="261.95"/>
<use href="#mr" x="263.70" y="263.40"/>
<use href="#mr" x="265.32" y="275.02"/>
<use href="#mr" x="265.83" y="265.34"/>
<use href="#mr" x="267.95" y="275.98"/>
<use href="#mr" x="269.45" y="276.47"/>
<use href="#mr" x="270.95" y="265.82"/>
<use href="#mr" x="271.20" y="269.69"/>
<use href="#mr" x="272.70" y="275.50"/>
<use href="#mr" x="272.82" y="271.14"/>
<use href="#mr" x="274.20" y="271.63"/>
<use href="#mr" x="275.83" y="282.28"/>
<use href="#mr" x="276.57" y="290.99"/>
<use href="#mr" x="278.45" y="277.92"/>
<use href="#mr" x="278.70" y="290.99"/>
<use href="#mr" x="279.20" y="290.50"/>
<use href="#mr" x="279.82" y="277.92"/>
<use href="#mr" x="280.95" y="282.28"/>
<use href="#mr" x="281.45" y="291.96"/>
<use href="#mr" x="282.32" y="300.67"/>
<use href="#mr" x="282.95" y="304.06"/>
<use href="#mr" x="284.07" y="285.66"/>
<use href="#mr" x="284.70" y="283.73"/>
<use href="#mr" x="286.33" y="304.06"/>
<use href="#mr" x="286.83" y="303.09"/>
<use href="#mr" x="287.95" y="279.86"/>
<use href="#mr" x="288.70" y="256.14"/>
<use href="#mr" x="289.45" y="256.62"/>
<use href="#mr" x="290.32" y="268.24"/>
<use href="#mr" x="290.95" y="285.18"/>
<use href="#mr" x="291.95" y="296.80"/>
<use href="#mr" x="293.33" y="280.34"/>
<use href="#mr" x="293.83" y="275.98"/>
<use href="#mr" x="294.20" y="290.02"/>
<use href="#mr" x="295.20" y="304.54"/>
<use href="#mr" x="295.95" y="262.92"/>
<use href="#mr" x="296.83" y="261.95"/>
<use href="#mr" x="297.58" y="310.35"/>
<use href="#mr" x="298.20" y="304.54"/>
<use href="#mr" x="299.82" y="288.57"/>
<use href="#mr" x="301.45" y="310.83"/>
<use href="#mr" x="302.20" y="287.60"/>
<use href="#mr" x="302.45" y="310.35"/>
<use href="#mr" x="303.08" y="262.43"/>
<use href="#mr" x="304.45" y="267.27"/>
<use href="#mr" x="304.70" y="305.99"/>
<use href="#mr" x="305.20" y="280.34"/>
<use href="#mr" x="307.08" y="271.14"/>
<use href="#mr" x="307.08" y="297.28"/>
<use href="#mr" x="307.95" y="269.69"/>
<use href="#mr" x="309.20" y="297.76"/>
<use href="#mr" x="310.95" y="255.66"/>
<use href="#mr" x="311.07" y="280.34"/>
<use href="#mr" x="312.08" y="280.82"/>
<use href="#mr" x="312.95" y="304.06"/>
<use href="#mr" x="313.45" y="303.57"/>
<use href="#mr" x="314.58" y="290.02"/>
<use href="#mr" x="314.82" y="285.18"/>
<use href="#mr" x="315.83" y="303.09"/>
<use href="#mr" x="316.83" y="283.73"/>
<use href="#mr" x="317.45" y="280.34"/>
<use href="#mr" x="318.33" y="296.31"/>
<use href="#mr" x="319.20" y="302.12"/>
<use href="#mr" x="320.33" y="301.64"/>
<use href="#mr" x="320.83" y="278.89"/>
<use href="#mr" x="321.70" y="278.40"/>
<use href="#mr" x="323.08" y="290.50"/>
<use href="#mr" x="323.20" y="291.47"/>
<use href="#mr" x="324.45" y="277.92"/>
<use href="#mr" x="324.82" y="271.63"/>
<use href="#mr" x="325.95" y="281.31"/>
<use href="#mr" x="327.32" y="268.24"/>
<use href="#mr" x="328.95" y="265.82"/>
<use href="#mr" x="331.45" y="270.66"/>
<use href="#mr" x="333.70" y="276.47"/>
<use href="#mr" x="335.33" y="264.37"/>
<use href="#mr" x="337.45" y="260.01"/>
<use href="#mr" x="338.45" y="260.01"/>
<use href="#mr" x="340.95" y="254.69"/>
<use href="#mr" x="341.83" y="246.46"/>
<use href="#mr" x="344.58" y="239.20"/>
<use href="#mr" x="347.20" y="231.94"/>
<use href="#mr" x="349.58" y="223.23"/>
<use href="#mr" x="351.45" y="214.52"/>
<use href="#mr" x="352.70" y="213.55"/>
<use href="#mr" x="353.95" y="206.77"/>
<use href="#mr" x="355.20" y="200.96"/>
<use href="#mr" x="356.45" y="194.67"/>
<use href="#mr" x="357.70" y="188.38"/>
<use href="#mr" x="358.95" y="180.64"/>
<use href="#mr" x="360.20" y="172.41"/>
<use href="#mr" x="361.45" y="164.18"/>
<use href="#mr" x="362.70" y="155.95"/>
<use href="#mr" x="363.95" y="147.72"/>
<use href="#mr" x="365.20" y="139.50"/>
<use href="#mr" x="366.45" y="131.27"/>
<use href="#mr" x="367.70" y="123.04"/>
<use href="#mr" x="368.95" y="113.36"/>
<use href="#mr" x="370.20" y="104.16"/>
<use href="#mr" x="371.45" y="94.97"/>
<use href="#mr" x="372.70" y="85.36"/>
<use href="#mr" x="373.95" y="80.21"/>
<use href="#mr" x="375.20" y="77.30"/>
<use href="#mr" x="376.45" y="75.12"/>
<use href="#mr" x="377.70" y="73.19"/>
<use href="#mr" x="378.95" y="71.74"/>
<use href="#mr" x="380.20" y="70.28"/>
<use href="#mr" x="381.45" y="69.12"/>
<use href="#mr" x="382.70" y="67.96"/>
<use href="#mr" x="383.95" y="67.03"/>
<use href="#mr" x="385.20" y="66.34"/>
<use href="#mr" x="386.45" y="65.65"/>
<use href="#mr" x="387.70" y="64.96"/>
<use href="#mr" x="388.95" y="64.43"/>
<use href="#mr" x="390.20" y="63.90"/>
<use href="#mr" x="391.45" y="63.36"/>
<use href="#mr" x="392.70" y="62.83"/>
<use href="#mr" x="393.95" y="62.30"/>
<use href="#mr" x="395.20" y="61.91"/>
<use href="#mr" x="396.45" y="61.52"/>
<use href="#mr" x="397.70" y="61.14"/>
<use href="#mr" x="398.95" y="60.75"/>
<use href="#mr" x="400.20" y="60.36"/>
<use href="#mr" x="401.45" y="60.24"/>
<use href="#mr" x="402.70" y="60.12"/>
<use href="#mr" x="403.95" y="60.00"/>
<use href="#mr" x="405.20" y="59.88"/>
<use href="#mr" x="406.45" y="59.76"/>
<use href="#mr" x="407.70" y="59.64"/>
<use href="#mr" x="408.95" y="59.52"/>
<use href="#mr" x="410.20" y="59.39"/>
<use href="#mr" x="411.45" y="59.27"/>
<use href="#mr" x="412.70" y="59.15"/>
<use href="#mr" x="413.95" y="59.27"/>
<use href="#mr" x="415.20" y="59.39"/>
<use href="#mr" x="416.45" y="59.52"/>
<use href="#mr" x="417.70" y="59.64"/>
<use href="#mr" x="418.95" y="59.76"/>
<use href="#mr" x="420.20" y="59.88"/>
<use href="#mr" x="421.45" y="60.00"/>
<use href="#mr" x="422.70" y="60.12"/>
<use href="#mr" x="423.95" y="60.24"/>
<use href="#mr" x="425.20" y="60.36"/>
<use href="#mr" x="426.45" y="60.75"/>
<use href="#mr" x="427.70" y="61.14"/>
<use href="#mr" x="428.95" y="61.52"/>
<use href="#mr" x="430.20" y="61.91"/>
<use href="#mr" x="431.45" y="62.30"/>
<use href="#mr" x="432.70" y="62.83"/>
<use href="#mr" x="433.95" y="63.36"/>
<use href="#mr" x="435.20" y="63.90"/>
<use href="#mr" x="436.45" y="64.43"/>
<use href="#mr" x="437.70" y="64.96"/>
<use href="#mr" x="438.95" y="65.65"/>
<use href="#mr" x="440.20" y="66.34"/>
<use href="#mr" x="441.45" y="67.03"/>
<use href="#mr" x="442.70" y="67.96"/>
<use href="#mr" x="443.95" y="69.12"/>
<use href="#mr" x="445.20" y="70.28"/>
<use href="#mr" x="446.45" y="71.74"/>
<use href="#mr" x="447.70" y="73.19"/>
<use href="#mr" x="448.95" y="75.12"/>
<use href="#mr" x="450.20" y="77.30"/>
<use href="#mr" x="451.45" y="80.21"/>
<use href="#mr" x="452.70" y="85.36"/>
<use href="#mr" x="453.95" y="94.97"/>
<use href="#mr" x="455.20" y="104.16"/>
<use href="#mr" x="456.45" y="113.36"/>
<use href="#mr" x="457.70" y="123.04"/>
<use href="#mr" x="458.95" y="131.27"/>
<use href="#mr" x="460.20" y="139.50"/>
<use href="#mr" x="461.45" y="147.72"/>
<use href="#mr" x="462.70" y="155.95"/>
<use href="#mr" x="463.95" y="164.18"/>
<use href="#mr" x="465.20" y="172.41"/>
<use href="#mr" x="466.45" y="180.64"/>
<use href="#mr" x="467.70" y="188.38"/>
<use href="#mr" x="468.95" y="194.67"/>
<use href="#mr" x="470.20" y="200.96"/>
<use href="#mr" x="471.45" y="206.77"/>
<use href="#mr" x="472.70" y="213.55"/>
<use href="#mr" x="474.33" y="212.58"/>
<use href="#mr" x="475.83" y="223.23"/>
<use href="#mr" x="477.08" y="229.52"/>
<use href="#mr" x="478.45" y="235.81"/>
<use href="#mr" x="479.82" y="236.30"/>
<use href="#mr" x="480.83" y="240.65"/>
<use href="#mr" x="482.32" y="238.72"/>
<use href="#mr" x="483.08" y="247.43"/>
<use href="#mr" x="483.95" y="254.69"/>
<use href="#mr" x="485.45" y="255.66"/>
<use href="#mr" x="486.45" y="254.69"/>
<use href="#mr" x="487.83" y="260.98"/>
<use href="#mr" x="488.70" y="263.40"/>
<use href="#mr" x="489.45" y="273.08"/>
<use href="#mr" x="490.83" y="258.08"/>
<use href="#mr" x="491.32" y="274.53"/>
<use href="#mr" x="492.32" y="269.21"/>
<use href="#mr" x="492.95" y="275.02"/>
<use href="#mr" x="494.33" y="268.24"/>
<use href="#mr" x="495.45" y="276.47"/>
<use href="#mr" x="496.07" y="269.21"/>
<use href="#mr" x="497.08" y="265.82"/>
<use href="#mr" x="498.08" y="267.27"/>
<use href="#mr" x="499.20" y="270.66"/>
<use href="#mr" x="500.58" y="265.34"/>
<use href="#mr" x="501.70" y="273.56"/>
<use href="#mr" x="502.83" y="282.76"/>
<use href="#mr" x="503.45" y="275.02"/>
<use href="#mr" x="504.82" y="282.28"/>
<use href="#mr" x="506.32" y="305.02"/>
<use href="#mr" x="507.57" y="272.11"/>
<use href="#mr" x="508.95" y="278.40"/>
<use href="#mr" x="509.58" y="283.24"/>
<use href="#mr" x="510.45" y="287.12"/>
<use href="#mr" x="511.95" y="265.34"/>
<use href="#mr" x="512.83" y="238.23"/>
<use href="#mr" x="513.95" y="258.08"/>
<use href="#mr" x="514.58" y="290.02"/>
<use href="#mr" x="515.95" y="277.44"/>
<use href="#mr" x="516.70" y="269.69"/>
<use href="#mr" x="518.08" y="282.76"/>
<use href="#mr" x="519.45" y="291.47"/>
<use href="#mr" x="520.95" y="292.44"/>
<use href="#mr" x="521.58" y="257.59"/>
<use href="#mr" x="522.20" y="277.44"/>
<use href="#mr" x="522.95" y="299.70"/>
<use href="#mr" x="523.70" y="306.48"/>
<use href="#mr" x="525.20" y="311.80"/>
</g>
<g font-family="Liberation Serif, serif" font-size="22" fill="#000"><text transform="translate(62.70,40.10) scale(1,1.06)" text-anchor="end">0</text>
<text transform="translate(62.70,88.50) scale(1,1.06)" text-anchor="end">-10</text>
<text transform="translate(62.70,136.90) scale(1,1.06)" text-anchor="end">-20</text>
<text transform="translate(62.70,185.30) scale(1,1.06)" text-anchor="end">-30</text>
<text transform="translate(62.70,233.70) scale(1,1.06)" text-anchor="end">-40</text>
<text transform="translate(62.70,282.10) scale(1,1.06)" text-anchor="end">-50</text>
<text transform="translate(62.70,330.50) scale(1,1.06)" text-anchor="end">-60</text>
<text transform="translate(62.70,378.90) scale(1,1.06)" text-anchor="end">-70</text>
<text transform="translate(75.20,425.9) scale(1,1.06)" text-anchor="middle">0</text>
<text transform="translate(150.20,425.9) scale(1,1.06)" text-anchor="middle">60</text>
<text transform="translate(225.20,425.9) scale(1,1.06)" text-anchor="middle">120</text>
<text transform="translate(300.20,425.9) scale(1,1.06)" text-anchor="middle">180</text>
<text transform="translate(375.20,425.9) scale(1,1.06)" text-anchor="middle">240</text>
<text transform="translate(450.20,425.9) scale(1,1.06)" text-anchor="middle">300</text>
<text transform="translate(525.20,425.9) scale(1,1.06)" text-anchor="middle">360</text></g>
<text transform="translate(25.6,215.65) rotate(-90) scale(1.033,1.08)" text-anchor="middle" font-family="Liberation Serif, serif" font-size="22">RCS/dBsm</text>
<text transform="translate(278.4,453.6) skewX(-8) scale(1.08,1.02)" font-family="Liberation Serif, serif" font-size="22" font-style="italic" stroke="#000" stroke-width="0.25">θ</text>
<text x="293.3" y="453.5" font-family="Liberation Serif, serif" font-size="22">/</text>
<text x="305.8" y="453.5" font-family="Liberation Serif, serif" font-size="22">(</text>
<text x="312.0" y="453.5" font-family="Liberation Serif, serif" font-size="22">°</text>
<text x="319.7" y="453.5" font-family="Liberation Serif, serif" font-size="22">)</text>
<rect x="352.6" y="8.4" width="171" height="45.6" fill="#fff" stroke="#444" stroke-width="1.3"/>
<line x1="354.3" y1="19.8" x2="389.8" y2="19.8" stroke="#0000ff" stroke-width="2"/>
<line x1="354.3" y1="41.3" x2="389.8" y2="41.3" stroke="#f2383a" stroke-width="2"/>
<circle cx="371.9" cy="19.8" r="5.0" fill="#fff" stroke="#0000ff" stroke-width="1.4"/><path d="M371.9,14.8 A5.0,5.0 0 0 1 371.9,24.8 Z" fill="#0000ff"/>
<circle cx="371.9" cy="41.3" r="5.0" fill="#fff" stroke="#f2383a" stroke-width="1.4"/><path d="M371.9,36.3 A5.0,5.0 0 0 0 371.9,46.3 Z" fill="#f2383a"/>
<g font-family="Liberation Serif, serif" font-size="17" fill="#000" stroke="#000" stroke-width="0.2"><text transform="translate(398.8,26.8)">Test results</text><text transform="translate(398.8,47.3)">Simulation results</text></g>
</svg>
</body></html>
